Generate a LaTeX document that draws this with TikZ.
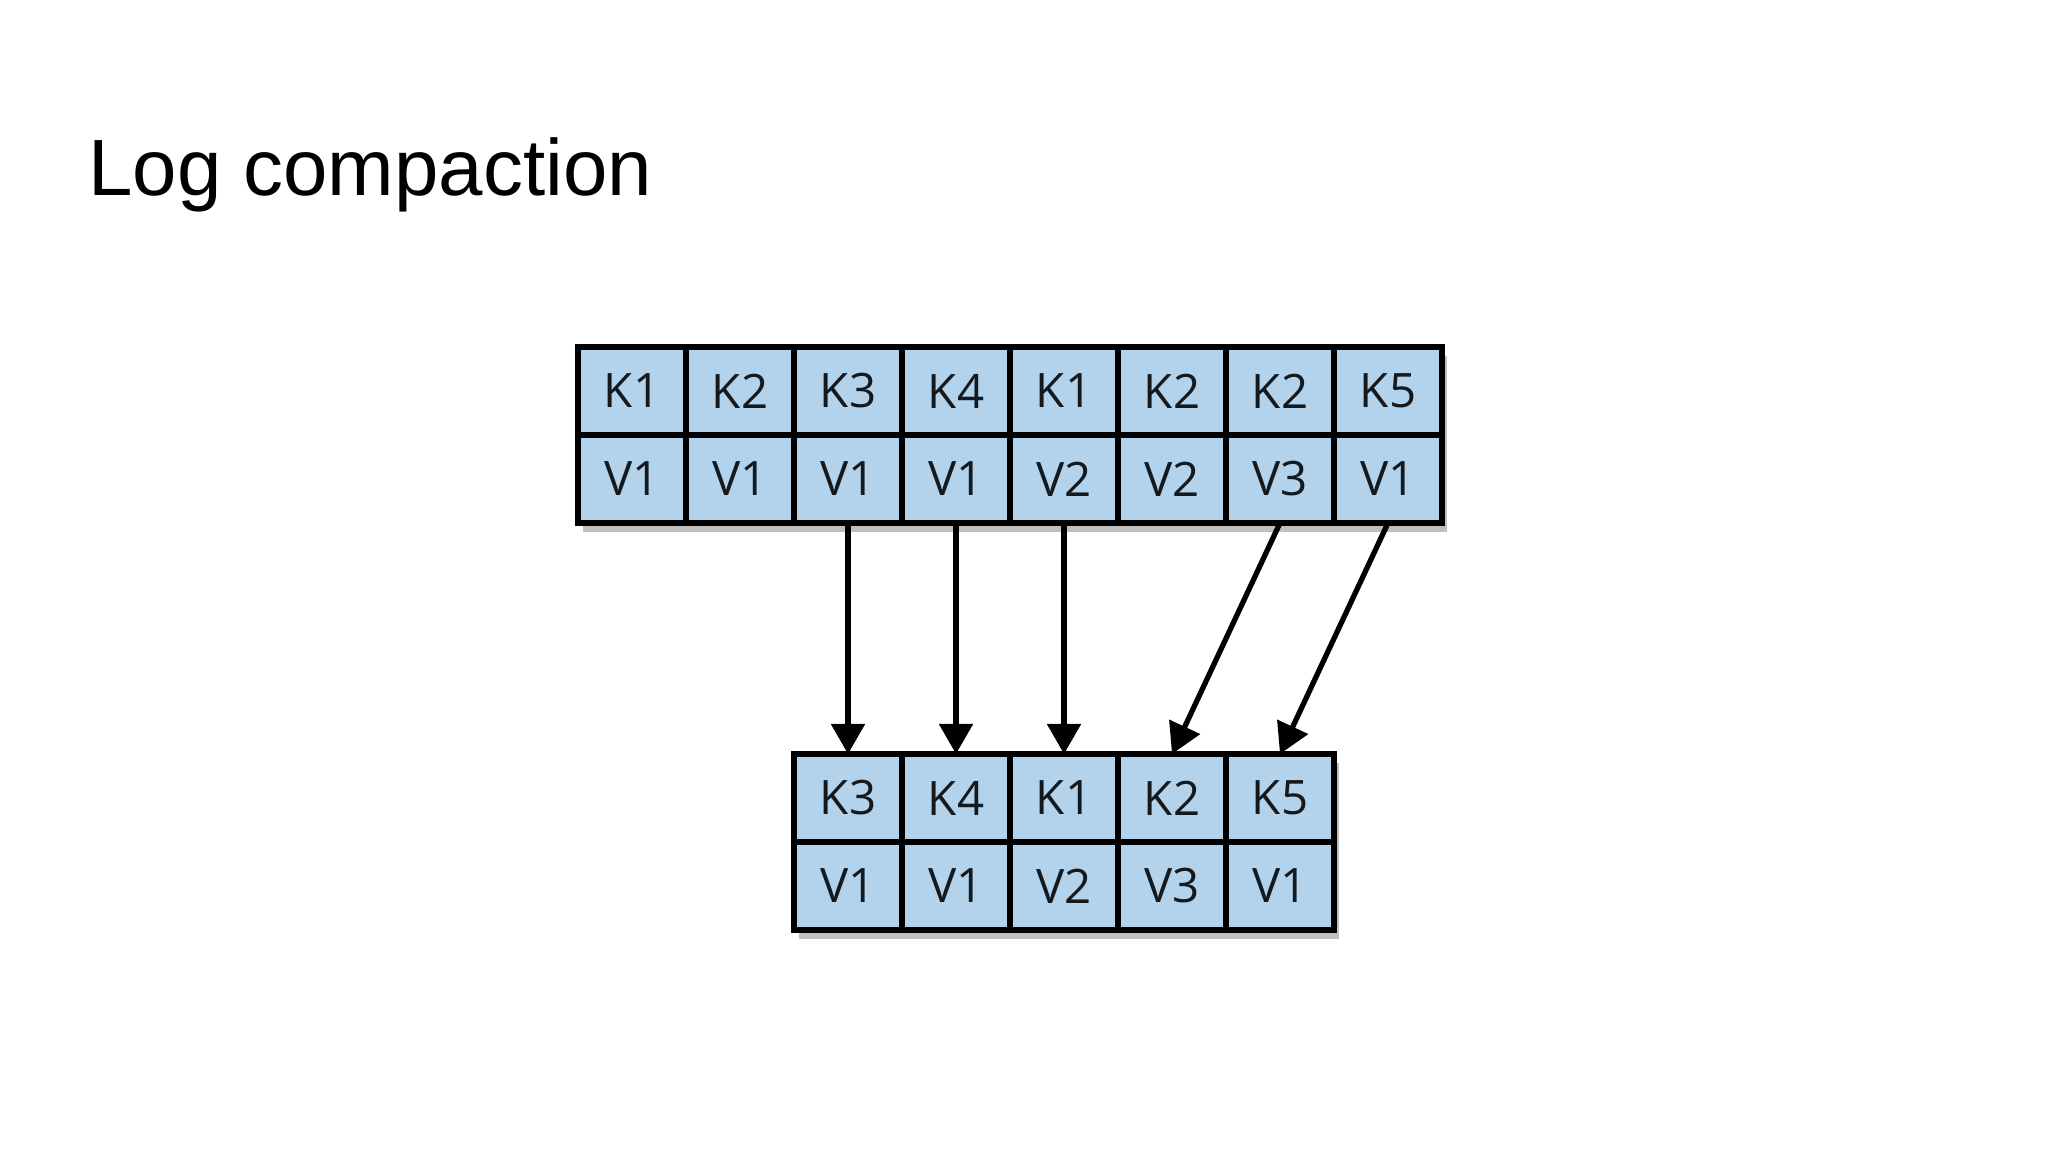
\documentclass[tikz,border=0pt]{standalone}
\usepackage{fontspec}
\setmainfont{Liberation Sans}
\newfontfamily\cellfont{Open Sans}
\usepackage{tikz}
\usetikzlibrary{positioning,arrows.meta,shadows,backgrounds}
\definecolor{CellBlue}{HTML}{B3D3EC}
\definecolor{CellInk}{HTML}{14191E}

\begin{document}
\begin{tikzpicture}[x=0.01cm,y=-0.01cm,
  cell/.style={draw=black,line width=1.6pt,fill=CellBlue,minimum width=1.08cm,minimum height=0.88cm,
    inner sep=0pt,outer sep=0pt,text=CellInk,font=\cellfont\fontsize{13.5}{13.5}\selectfont},
  frame/.style={draw=black,line width=1.9pt},
  shade box/.style={drop shadow={shadow xshift=0.05cm,shadow yshift=-0.09cm,fill=black,opacity=0.25}},
  logarrow/.style={line width=1.5pt,-{Triangle[length=0.3cm,width=0.33cm]}}]

  \useasboundingbox (0,0) rectangle (2048,1152);
  \node[anchor=base west,font=\fontsize{22.7}{22.7}\selectfont] (title) at (76,196) {Log compaction};

  % full log
  \foreach \k/\v [count=\i] in {K1/V1, K2/V1, K3/V1, K4/V1, K1/V2, K2/V2, K2/V3, K5/V1} {
    \node[cell] (tk\i) at (524+108*\i,391) {\k};
    \node[cell] (tv\i) at (524+108*\i,479) {\v};
  }
  % compacted log
  \foreach \k/\v [count=\j] in {K3/V1, K4/V1, K1/V2, K2/V3, K5/V1} {
    \node[cell] (bk\j) at (740+108*\j,798) {\k};
    \node[cell] (bv\j) at (740+108*\j,886) {\v};
  }

  \begin{scope}[on background layer]
    \fill[white] (0,0) rectangle (2048,1152);
    \path[shade box] (tk1.north west) rectangle (tv8.south east);
    \path[shade box] (bk1.north west) rectangle (bv5.south east);
  \end{scope}
  \draw[frame] (tk1.north west) rectangle (tv8.south east);
  \draw[frame] (bk1.north west) rectangle (bv5.south east);

  \draw[logarrow] (tv3.south) -- (bk1.north);
  \draw[logarrow] (tv4.south) -- (bk2.north);
  \draw[logarrow] (tv5.south) -- (bk3.north);
  \draw[logarrow] (tv7.south) -- (bk4.north);
  \draw[logarrow] (tv8.south) -- (bk5.north);
\end{tikzpicture}
\end{document}
